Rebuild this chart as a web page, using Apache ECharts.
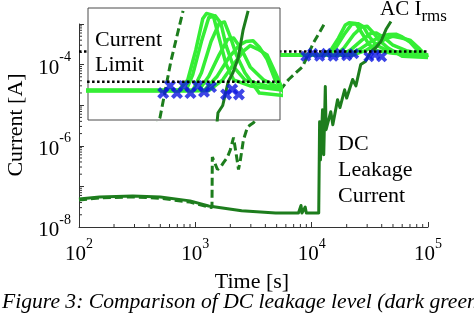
<!DOCTYPE html>
<html>
<head>
<meta charset="utf-8">
<script src="https://cdn.jsdelivr.net/npm/echarts@6/dist/echarts.min.js"></script>
<style>
html, body { margin: 0; padding: 0; background: #fff; }
#chart { width: 474px; height: 315px; }
</style>
</head>
<body>
<div id="chart"></div>
<script>
// [time s, current A]
var dcSolid = [
  [100, 4.9e-8], [150, 5.5e-8], [290, 5.8e-8], [500, 5.5e-8], [900, 4.4e-8], [1300, 3.3e-8],
  [2500, 2.5e-8], [4900, 2.2e-8], [7700, 2.2e-8], [8100, 3.4e-8], [8250, 2.2e-8], [8800, 3.1e-8],
  [9000, 2.2e-8], [11500, 2.2e-8], [11700, 3.9e-6], [11900, 4.5e-7], [12400, 7.7e-6], [12700, 6e-7],
  [13100, 2.9e-5], [13300, 2.5e-6], [14600, 6.9e-6], [15200, 3.3e-6], [16700, 1.37e-5], [17500, 8.7e-6],
  [19200, 2.4e-5], [20000, 1.5e-5], [22500, 4.3e-5], [24000, 3.0e-5], [26400, 1.0e-4], [29000, 1.19e-4],
  [32300, 2.1e-4], [35500, 2.6e-4], [39400, 3.7e-4], [43500, 7.3e-4], [48000, 1.15e-3]
];
var dcDashed = [
  [100, 4.6e-8], [150, 5.2e-8], [290, 5.5e-8], [500, 5.1e-8], [900, 4.1e-8], [1300, 3.1e-8],
  [1390, 3.0e-8], [1400, 5.3e-7], [1550, 2.6e-7], [1650, 3.0e-7], [1740, 3.8e-7], [1890, 5.3e-7],
  [2000, 8.0e-7], [2130, 1.6e-6], [2250, 6.0e-7], [2350, 2.6e-7], [2440, 4.5e-7], [2590, 1.4e-6],
  [2810, 2.9e-6], [2980, 3.3e-6], [3160, 3.7e-6], [4000, 8.7e-6], [5400, 2.4e-5], [6340, 4.3e-5],
  [8350, 8.9e-5], [10400, 3.5e-4], [13200, 1.15e-3]
];
var acRun1 = [[1500, 1.7e-4], [12000, 1.7e-4], [14500, 2.2e-4], [17000, 4.5e-4], [19500, 9.5e-4], [21000, 1.08e-3],
  [24000, 1.03e-3], [27000, 6e-4], [31000, 3.2e-4], [36000, 2.2e-4], [50000, 1.9e-4], [100000, 1.7e-4]];
var acRun2 = [[1500, 1.7e-4], [14000, 1.7e-4], [16000, 2.5e-4], [19000, 5.5e-4], [22000, 9.8e-4], [25000, 1.02e-3],
  [28000, 8.5e-4], [31000, 5e-4], [36000, 3e-4], [45000, 2.2e-4], [70000, 1.9e-4], [100000, 1.75e-4]];
var acRun3 = [[1500, 1.7e-4], [16000, 1.7e-4], [19000, 2.6e-4], [23000, 5.5e-4], [27000, 8.5e-4], [30000, 8.8e-4],
  [34000, 6e-4], [38000, 4e-4], [45000, 2.6e-4], [60000, 1.6e-4], [100000, 1.5e-4]];
var acRun4 = [[1500, 1.7e-4], [18000, 1.7e-4], [22000, 2.4e-4], [27000, 4e-4], [32000, 5.8e-4], [36000, 6e-4],
  [42000, 4.6e-4], [50000, 3e-4], [65000, 2.2e-4], [100000, 1.7e-4]];
var acRun5 = [[1500, 1.7e-4], [20000, 1.7e-4], [26000, 2.4e-4], [33000, 3.8e-4], [40000, 5e-4], [46000, 5.5e-4],
  [53000, 5.6e-4], [60000, 4.8e-4], [70000, 3.6e-4], [82000, 2.2e-4], [100000, 1.6e-4]];
var acRun6 = [[1500, 1.7e-4], [22000, 1.7e-4], [29000, 2.2e-4], [36000, 3.2e-4], [44000, 4.4e-4], [50000, 5e-4],
  [58000, 4.6e-4], [70000, 4e-4], [85000, 2.4e-4], [100000, 1.5e-4]];
var crossTimes = [8900, 10200, 11700, 13400, 15300, 17600, 20000, 23000, 31000, 35000, 40000];
var crossValues = [1.6e-4, 1.9e-4, 1.6e-4, 1.9e-4, 1.6e-4, 1.9e-4, 1.65e-4, 1.85e-4, 1.55e-4, 1.75e-4, 1.55e-4];
var limitTimes = [100, 100000];
var currentLimit = 2.1e-4;

// minor tick positions of the log axes (2..9 per decade)
var xDecades = [100, 1000, 10000];
var yDecades = [1e-8, 1e-7, 1e-6, 1e-5, 1e-4];
var minorSteps = [2, 3, 4, 5, 6, 7, 8, 9];

var acRuns = [acRun1, acRun2, acRun3, acRun4, acRun5, acRun6];
var crosses = crossTimes.map(function (t, i) { return [t, crossValues[i]]; });
var limitLine = limitTimes.map(function (t) { return [t, currentLimit]; });

var SERIF = '"Liberation Serif", "Times New Roman", serif';
var DARK = '#1d7d1d';
var BRIGHT = '#35ee35';
var BLUE = '#0e16e0';
var AXIS = '#333';
var crossPath = 'path://M0,2.4L2.4,0L5,2.6L7.6,0L10,2.4L7.4,5L10,7.6L7.6,10L5,7.4L2.4,10L0,7.6L2.6,5Z';

function layer(grid, z, markSize) {
  var clip = grid === 1;
  var list = acRuns.map(function (run) {
    return {
      type: 'line', xAxisIndex: grid, yAxisIndex: grid, data: run, showSymbol: false, clip: clip, z: z,
      lineStyle: { color: BRIGHT, width: 3.5, join: 'round' }
    };
  });
  list.push({
    type: 'line', xAxisIndex: grid, yAxisIndex: grid, data: dcDashed, showSymbol: false, clip: clip, z: z + 1,
    lineStyle: { color: DARK, width: 3, type: [8, 4] }
  });
  list.push({
    type: 'line', xAxisIndex: grid, yAxisIndex: grid, data: dcSolid, showSymbol: false, clip: clip, z: z + 1,
    lineStyle: { color: DARK, width: 3, join: 'round' }
  });
  list.push({
    type: 'scatter', xAxisIndex: grid, yAxisIndex: grid, data: crosses, symbol: crossPath, symbolSize: markSize,
    clip: clip, z: z + 2, itemStyle: { color: BLUE }
  });
  list.push({
    type: 'line', xAxisIndex: grid, yAxisIndex: grid, data: limitLine, showSymbol: false, clip: clip, z: z + 3,
    lineStyle: { color: '#000', width: 2.5, type: [2.5, 2.5] }
  });
  return list;
}

function minorTicks(decades, horizontal) {
  var data = [];
  decades.forEach(function (d) {
    minorSteps.forEach(function (k) {
      data.push(horizontal ? [d * k, 1e-8] : [100, d * k]);
    });
  });
  return {
    type: 'custom', xAxisIndex: 0, yAxisIndex: 0, silent: true, clip: false, z: 1, data: data,
    renderItem: function (params, api) {
      var p = api.coord([api.value(0), api.value(1)]);
      return {
        type: 'line',
        shape: horizontal ? { x1: p[0], y1: p[1], x2: p[0], y2: p[1] - 3 } : { x1: p[0], y1: p[1], x2: p[0] + 3, y2: p[1] },
        style: { stroke: AXIS, lineWidth: 1 }
      };
    }
  };
}

function powLabel(v) {
  var e = Math.round(Math.log10(v));
  return '{b|10}{s|' + e + '}';
}
var powRich = {
  b: { fontFamily: SERIF, fontSize: 21, color: '#000', lineHeight: 28, verticalAlign: 'bottom' },
  s: { fontFamily: SERIF, fontSize: 14, color: '#000', verticalAlign: 'top' }
};

function txt(text, x, y, opts) {
  opts = opts || {};
  return {
    type: 'text', z: 30, x: x, y: y, rotation: opts.rotation || 0,
    style: {
      text: text, x: 0, y: 0, fill: '#000',
      font: (opts.italic ? 'italic ' : '') + (opts.size || 22) + 'px ' + SERIF,
      textAlign: opts.align || 'left', textVerticalAlign: 'middle',
      align: opts.align || 'left', verticalAlign: 'middle'
    }
  };
}

var chart = echarts.init(document.getElementById('chart'));
chart.setOption({
  animation: false,
  backgroundColor: '#fff',
  grid: [
    { left: 79, right: 46, top: 24, bottom: 88 },
    { left: 88, top: 8, width: 192, height: 112, show: true, backgroundColor: '#fff',
      borderColor: '#4a4a4a', borderWidth: 1, z: 6 }
  ],
  xAxis: [
    {
      type: 'log', gridIndex: 0, min: 100, max: 100000,
      axisLine: { lineStyle: { color: AXIS, width: 1 } },
      axisTick: { inside: true, length: 5, lineStyle: { color: AXIS } },
      splitLine: { show: false },
      axisLabel: { margin: 10, formatter: powLabel, rich: powRich }
    },
    { type: 'log', gridIndex: 1, min: 2000, max: 90400, show: false, splitLine: { show: false } }
  ],
  yAxis: [
    {
      type: 'log', gridIndex: 0, min: 1e-8, max: 1e-3,
      axisLine: { show: true, lineStyle: { color: AXIS, width: 1 } },
      axisTick: { show: true, inside: true, length: 5, lineStyle: { color: AXIS } },
      splitLine: { show: false },
      axisLabel: {
        margin: 8,
        formatter: function (v) {
          var e = Math.round(Math.log10(v));
          return e % 2 === 0 ? powLabel(v) : '';
        },
        rich: powRich
      }
    },
    { type: 'log', gridIndex: 1, min: 8.4e-5, max: 1.23e-3, show: false, splitLine: { show: false } }
  ],
  series: [minorTicks(xDecades, true), minorTicks(yDecades, false)]
    .concat(layer(0, 2, 11))
    .concat(layer(1, 7, 12)),
  graphic: [
    txt('Current [A]', 16, 125, { rotation: Math.PI / 2, align: 'center' }),
    txt('Time [s]', 252, 282, { align: 'center' }),
    txt('Figure 3: Comparison of DC leakage level (dark green) and AC', 2, 302, { italic: true, size: 21.6 }),
    txt('Current', 95, 40.5),
    txt('Limit', 95, 65),
    txt('DC', 338, 144.5),
    txt('Leakage', 338, 170),
    txt('Current', 338, 196),
    {
      type: 'text', z: 30, x: 380, y: 12,
      style: {
        text: '{a|AC I}{r|rms}', x: 0, y: 0, verticalAlign: 'middle', textVerticalAlign: 'middle',
        rich: {
          a: { fontFamily: SERIF, fontSize: 21, fill: '#000', color: '#000', lineHeight: 26, verticalAlign: 'top' },
          r: { fontFamily: SERIF, fontSize: 17, fill: '#000', color: '#000', lineHeight: 26, verticalAlign: 'bottom' }
        }
      }
    }
  ]
});
</script>
</body>
</html>
